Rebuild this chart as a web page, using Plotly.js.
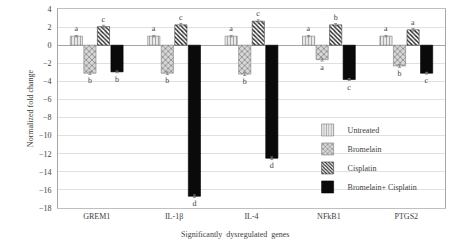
<!DOCTYPE html>
<html><head><meta charset="utf-8">
<script src="https://cdn.plot.ly/plotly-3.0.1.min.js"></script>
<style>html,body{margin:0;padding:0;background:#fff}#chart{width:474px;height:240px}
#chart .bartext{fill:#3a3a3a !important;opacity:0.99;text-rendering:geometricPrecision}</style>
</head><body><div id="chart"></div>
<script>
const genes = ["GREM1", "IL-1β", "IL-4", "NFkB1", "PTGS2"];
const untreated = [1.0, 1.0, 1.0, 1.0, 1.0];
const bromelain = [-3.1, -3.1, -3.2, -1.6, -2.3];
const cisplatin = [2.05, 2.25, 2.65, 2.25, 1.7];
const combo = [-2.95, -16.7, -12.5, -3.8, -3.1];
const errUntreated = [0.08, 0.08, 0.08, 0.08, 0.08];
const errBromelain = [0.15, 0.15, 0.15, 0.15, 0.15];
const errCisplatin = [0.15, 0.15, 0.15, 0.15, 0.15];
const errCombo = [0.1, 0.15, 0.15, 0.1, 0.1];
const lettersUntreated = ["a", "a", "a", "a", "a"];
const lettersBromelain = ["b", "b", "b", "a", "b"];
const lettersCisplatin = ["c", "c", "c", "b", "a"];
const lettersCombo = ["b", "d", "d", "c", "c"];
const seriesNames = ["Untreated", "Bromelain", "Cisplatin", "Bromelain+ Cisplatin"];

const serif = "Liberation Serif, Times New Roman, serif";
const txtColor = "#404040";

function mk(name, y, err, letters, marker) {
  const tf = {family: serif, size: 8, color: "#3a3a3a"};
  return {
    type: "bar", name: name, x: genes, y: y, text: letters,
    textposition: "outside", cliponaxis: false, constraintext: "none",
    textfont: tf, outsidetextfont: tf,
    error_y: {type: "data", array: err, visible: true, color: "#7f7f7f", thickness: 0.8, width: 1.5},
    marker: marker, hoverinfo: "skip"
  };
}

const traces = [
  mk(seriesNames[0], untreated, errUntreated, lettersUntreated,
     {color: "#d0d0d0", line: {color: "#7f7f7f", width: 0.6},
      pattern: {shape: "|", fgcolor: "#a0a0a0", bgcolor: "#e8e8e8", size: 3, solidity: 0.3}}),
  mk(seriesNames[1], bromelain, errBromelain, lettersBromelain,
     {color: "#a0a0a0", line: {color: "#7f7f7f", width: 0.6},
      pattern: {shape: "x", fgcolor: "#707070", bgcolor: "#d8d8d8", size: 4, solidity: 0.3}}),
  mk(seriesNames[2], cisplatin, errCisplatin, lettersCisplatin,
     {color: "#606060", line: {color: "#404040", width: 0.6},
      pattern: {shape: "\\", fgcolor: "#202020", bgcolor: "#ffffff", size: 3, solidity: 0.45}}),
  mk(seriesNames[3], combo, errCombo, lettersCombo,
     {color: "#0a0a0a", line: {color: "#000000", width: 0.6}})
];

const layout = {
  width: 474, height: 240,
  margin: {l: 58, r: 29, t: 9, b: 32},
  paper_bgcolor: "#ffffff", plot_bgcolor: "#ffffff",
  barmode: "group", bargap: 0.3, bargroupgap: 0.1,
  font: {family: serif, size: 8, color: txtColor},
  showlegend: true,
  legend: {
    x: 0.645, xanchor: "left", y: 0.465, yanchor: "top",
    bgcolor: "rgba(0,0,0,0)", borderwidth: 0,
    traceorder: "normal",
    font: {family: serif, size: 8, color: txtColor},
    itemwidth: 30
  },
  xaxis: {
    type: "category", showgrid: false, showline: true, linecolor: "#bfbfbf", linewidth: 1,
    mirror: true, ticks: "", tickfont: {family: serif, size: 8, color: txtColor},
    zeroline: false
  },
  yaxis: {
    range: [-18, 4], dtick: 2, tick0: 0, showgrid: true, gridcolor: "#e0e0e0", gridwidth: 1,
    showline: true, linecolor: "#a6a6a6", linewidth: 1, mirror: true,
    zeroline: true, zerolinecolor: "#a6a6a6", zerolinewidth: 1,
    ticks: "", ticklabelstandoff: 4,
    tickfont: {family: serif, size: 8, color: txtColor},
    title: {text: "Normalized fold change", font: {family: serif, size: 8, color: txtColor}, standoff: 4}
  },
  annotations: [{
    text: "Significantly  dysregulated  genes", xref: "paper", yref: "paper",
    x: 0.457, y: -0.1, yanchor: "top", xanchor: "center", showarrow: false,
    font: {family: serif, size: 8, color: txtColor}
  }]
};

Plotly.newPlot("chart", traces, layout, {staticPlot: true, displayModeBar: false});
</script>
</body></html>
